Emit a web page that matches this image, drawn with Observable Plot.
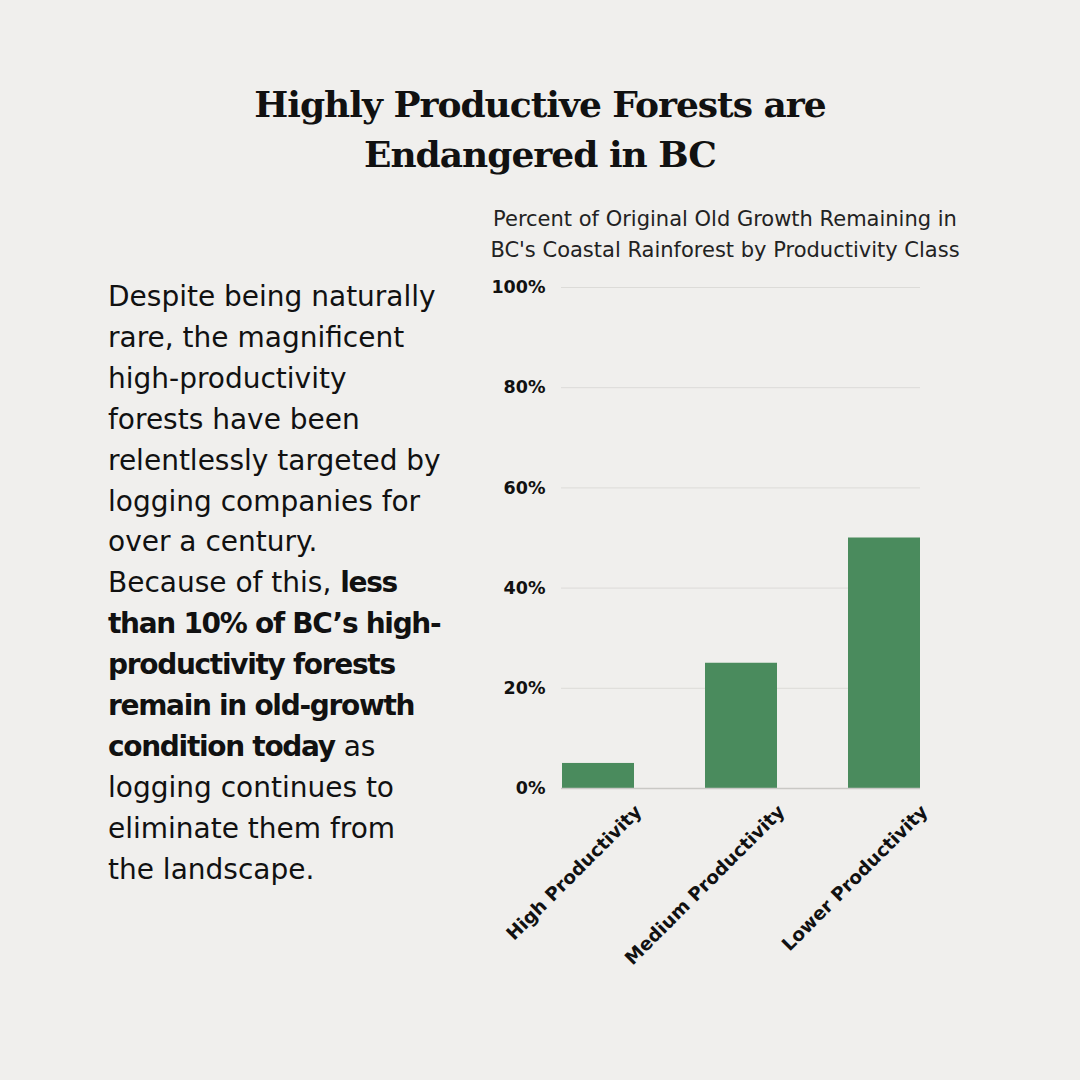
<!DOCTYPE html>
<html>
<head>
<meta charset="utf-8">
<script src="https://cdn.jsdelivr.net/npm/d3@7"></script>
<script src="https://cdn.jsdelivr.net/npm/@observablehq/plot@0.6"></script>
<style>
  html, body { margin: 0; padding: 0; }
  body { width: 1080px; height: 1080px; background: #f0efed; position: relative; overflow: hidden; font-family: "DejaVu Sans", sans-serif; color: #111; }
  #title { position: absolute; left: 0; width: 1080px; top: 79px; text-align: center; font-family: "DejaVu Serif", serif; font-weight: bold; font-size: 36px; letter-spacing: -1px; line-height: 50px; color: #111; }
  #subtitle { position: absolute; left: 440px; width: 570px; top: 204px; text-align: center; font-size: 21px; line-height: 31px; color: #222; }
  #body { position: absolute; left: 108px; top: 277px; font-size: 28px; line-height: 40.9px; color: #111; white-space: nowrap; }
  #body b { font-weight: bold; letter-spacing: -1.3px; }
  #chart { position: absolute; left: 480px; top: 270px; }
</style>
</head>
<body>
<div id="title">Highly Productive Forests are<br>Endangered in BC</div>
<div id="subtitle">Percent of Original Old Growth Remaining in<br>BC's Coastal Rainforest by Productivity Class</div>
<div id="body"></div>
<div id="chart"></div>
<script>
const categories = ["High Productivity", "Medium Productivity", "Lower Productivity"];
const percentRemaining = [5, 25, 50];
const yTicks = [0, 20, 40, 60, 80, 100];
const bodyLines = [
  "Despite being naturally",
  "rare, the magnificent",
  "high-productivity",
  "forests have been",
  "relentlessly targeted by",
  "logging companies for",
  "over a century.",
  "Because of this, <b>less</b>",
  "<b>than 10% of BC\u2019s high-</b>",
  "<b>productivity forests</b>",
  "<b>remain in old-growth</b>",
  "<b>condition today</b> as",
  "logging continues to",
  "eliminate them from",
  "the landscape."
];

document.getElementById("body").innerHTML = bodyLines.map(l => `<div>${l}</div>`).join("");

const data = categories.map((c, i) => ({category: c, value: percentRemaining[i]}));

const chart = Plot.plot({
  width: 460,
  height: 720,
  marginLeft: 81,
  marginRight: 20,
  marginTop: 17,
  marginBottom: 202,
  style: {background: "transparent", fontFamily: "DejaVu Sans, sans-serif", color: "#111"},
  x: {domain: categories, paddingInner: 0.5, paddingOuter: 0, label: null},
  y: {domain: [0, 100], label: null},
  marks: [
    Plot.ruleY(yTicks.filter(d => d > 0), {stroke: "#dcdbd8", strokeWidth: 1}),
    Plot.barY(data, {x: "category", y: "value", fill: "#4a8b5d"}),
    Plot.ruleY([0], {stroke: "#c9c8c5", strokeWidth: 1.5}),
    Plot.axisY({ticks: yTicks, tickFormat: d => d + "%", tickSize: 0, tickPadding: 16, fontSize: 17.5, fontWeight: "bold", label: null}),
    Plot.axisX({tickSize: 0, tickRotate: -45, tickPadding: 10, dx: 40, dy: 10, fontSize: 18.5, fontWeight: "bold", label: null})
  ]
});
document.getElementById("chart").appendChild(chart);
</script>
</body>
</html>
